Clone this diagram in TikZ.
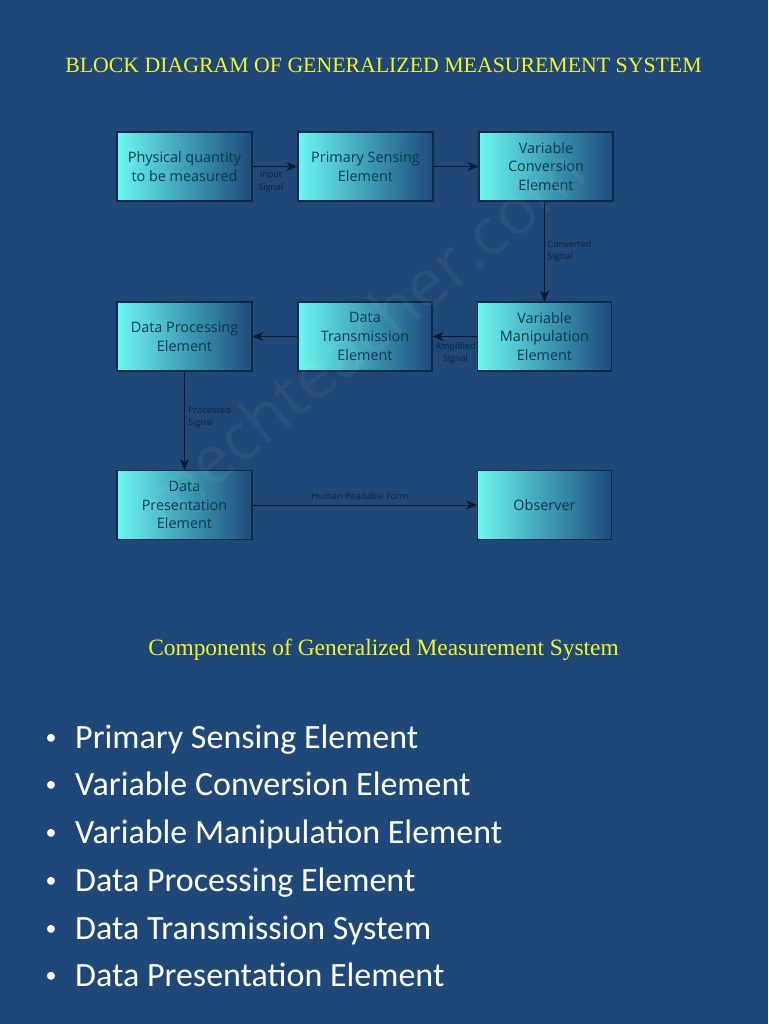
\documentclass[tikz,border=0pt]{standalone}
\usepackage{fontspec}
\setmainfont{Open Sans}
\newfontfamily\serifttl{Liberation Serif}
\newfontfamily\bulletfont{Carlito}
\usetikzlibrary{arrows.meta}
\definecolor{bgblue}{HTML}{1F4878}
\definecolor{boxline}{HTML}{0B2A4A}
\definecolor{boxtext}{HTML}{083A50}
\definecolor{boxleft}{HTML}{6CF7F0}
\definecolor{boxmid}{HTML}{3F9FB8}
\definecolor{boxright}{HTML}{1D4B7C}
\definecolor{wire}{HTML}{071A30}
\definecolor{small}{HTML}{0A2240}
\definecolor{ttl}{HTML}{F2F230}
\tikzset{
 x=1pt,y=-1pt,
 blockbox/.style={draw=boxline,line width=1.1pt,minimum width=135pt,minimum height=69pt,inner sep=0pt,
   left color=boxleft,right color=boxright,middle color=boxmid,
   text=boxtext,align=center,font=\fontsize{14.4}{18.8}\selectfont},
 wirearrow/.style={draw=wire,line width=1.2pt,-{Stealth[length=11pt,width=9pt,inset=3.5pt]}},
 thinarrow/.style={draw=wire,line width=0.9pt,-{Stealth[length=11pt,width=9pt,inset=3.5pt]}},
 sig/.style={text=small,align=center,inner sep=0pt,font=\fontsize{9}{12.5}\selectfont},
 sigl/.style={text=small,align=left,inner sep=0pt,font=\fontsize{9}{12.5}\selectfont},
 ttlnode/.style={text=ttl,inner sep=0pt,anchor=base},
 bulletitem/.style={text=white,anchor=base west,inner sep=0pt,font=\bulletfont\fontsize{34}{40}\selectfont},
 bulletdot/.style={text=white,anchor=base,inner sep=0pt,font=\bulletfont\fontsize{22}{24}\selectfont},
}
\begin{document}
\begin{tikzpicture}
\useasboundingbox (0,0) rectangle (768,1024);
\fill[bgblue] (0,0) rectangle (768,1024);
\node[ttlnode,font=\serifttl\fontsize{21.8}{24}\selectfont] (t1) at (383.5,73) {BLOCK DIAGRAM OF GENERALIZED MEASUREMENT SYSTEM};
\node[blockbox] (pq) at (184.5,166.5) {Physical quantity\\to be measured};
\node[blockbox] (ps) at (365.5,166.5) {Primary Sensing\\Element};
\node[blockbox,minimum width=134pt] (vc) at (546,166.5) {Variable\\Conversion\\Element};
\node[blockbox] (dp) at (184.5,336.5) {Data Processing\\Element};
\node[blockbox,minimum width=134pt] (dt) at (365,336.5) {Data\\Transmission\\Element};
\node[blockbox,minimum width=134pt] (vm) at (544.5,336.5) {Variable\\Manipulation\\Element};
\node[blockbox] (pr) at (184.5,505) {Data\\Presentation\\Element};
\node[blockbox,minimum width=134pt] (ob) at (544.5,505) {Observer};
\node[rotate=39.5,text=white,opacity=0.05,inner sep=0pt,font=\fontsize{66}{66}\selectfont] (wm) at (362,335) {mechteacher.com};
\draw[wirearrow] (pq) -- (ps);
\draw[wirearrow] (ps) -- (vc);
\draw[thinarrow] (vc.south -| vm) -- (vm);
\draw[wirearrow] (vm) -- (dt);
\draw[wirearrow] (dt) -- (dp);
\draw[thinarrow] (dp) -- (pr);
\draw[thinarrow] (pr) -- (ob);
\node[sig] (l1) at (271,182) {Input\\Signal};
\node[sigl,anchor=west] (l2) at (547.5,251) {Converted\\Signal};
\node[sig] (l3) at (455.5,353) {Amplified\\Signal};
\node[sigl,anchor=west] (l4) at (188,417) {Processed\\Signal};
\node[sig] (l5) at (360,496.5) {Human Readable Form};
\node[ttlnode,font=\serifttl\fontsize{23.4}{26}\selectfont] (t2) at (383.5,655) {Components of Generalized Measurement System};
\foreach \n/\y/\t in {a/748/Primary Sensing Element,b/795/Variable Conversion Element,c/843/Variable Manipulation Element,d/891/Data Processing Element,e/939/Data Transmission System,f/986/Data Presentation Element}{
  \node[bulletdot] (dot\n) at (51,\y-4) {•};
  \node[bulletitem] (it\n) at (75,\y) {\t};
}
\end{tikzpicture}
\end{document}
